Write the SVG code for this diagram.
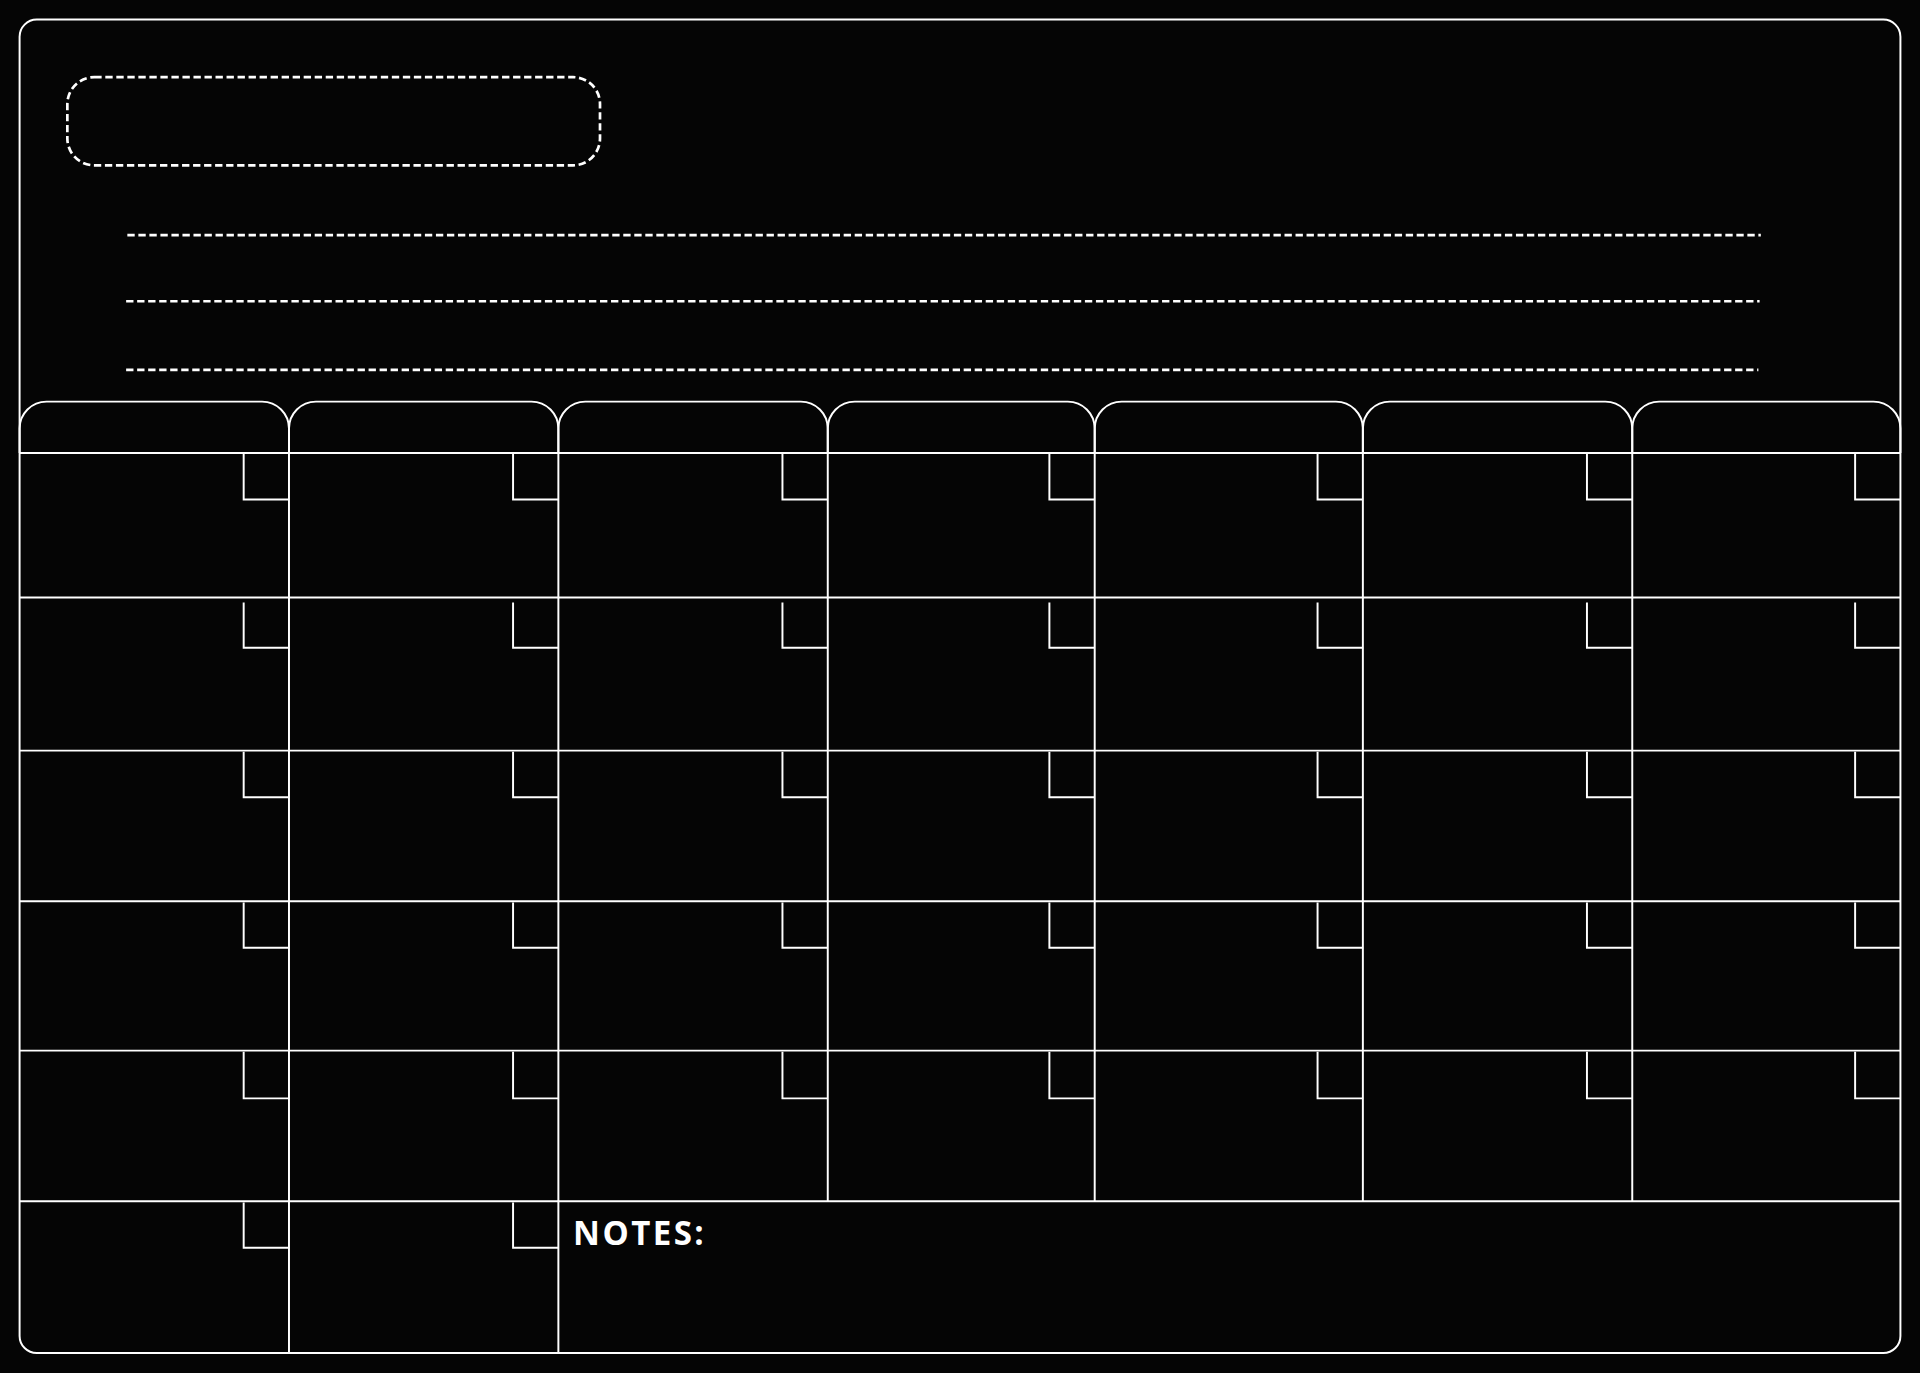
<svg xmlns="http://www.w3.org/2000/svg" width="1920" height="1373" viewBox="0 0 1920 1373">
<style>
.l{fill:none;stroke:#fff;stroke-width:1.6}
.d{fill:none;stroke:#fff;stroke-width:2.2;stroke-dasharray:6 3}
.t{fill:#fff;font-family:"Open Sans","DejaVu Sans",sans-serif;font-weight:bold;font-size:27px;letter-spacing:2px}
</style>
<rect width="1920" height="1373" fill="#050505"/>
<g transform="scale(1.2245)">
<g id="frame"><rect class="l" x="16" y="16" width="1536" height="1089" rx="14" stroke-width="2.2"/></g>
<g id="title"><rect class="d" x="55" y="63" width="435" height="72" rx="22"/></g>
<g id="lines">
<line class="d" x1="104" y1="192" x2="1438" y2="192"/>
<line class="d" x1="103" y1="246" x2="1437" y2="246"/>
<line class="d" x1="103" y1="302" x2="1436" y2="302"/>
</g>
<g id="tabs" class="l">
<path d="M16 370V350a22 22 0 0 1 22-22H214a22 22 0 0 1 22 22V370"/>
<path d="M236 370V350a22 22 0 0 1 22-22H434a22 22 0 0 1 22 22V370"/>
<path d="M456 370V350a22 22 0 0 1 22-22H654a22 22 0 0 1 22 22V370"/>
<path d="M676 370V350a22 22 0 0 1 22-22H872a22 22 0 0 1 22 22V370"/>
<path d="M894 370V350a22 22 0 0 1 22-22H1091a22 22 0 0 1 22 22V370"/>
<path d="M1113 370V350a22 22 0 0 1 22-22H1311a22 22 0 0 1 22 22V370"/>
<path d="M1333 370V350a22 22 0 0 1 22-22H1530a22 22 0 0 1 22 22V370"/>
</g>
<g id="grid" class="l">
<path d="M16 370H1552M16 488H1552M16 613H1552M16 736H1552M16 858H1552M16 981H1552"/>
<path d="M236 370V1105M456 370V1105M676 370V981M894 370V981M1113 370V981M1333 370V981"/>
</g>
<g id="boxes" class="l">
<path d="M199 370v38h37M419 370v38h37M639 370v38h37M857 370v38h37M1076 370v38h37M1296 370v38h37M1515 370v38h37"/>
<path d="M199 492v37h37M419 492v37h37M639 492v37h37M857 492v37h37M1076 492v37h37M1296 492v37h37M1515 492v37h37"/>
<path d="M199 614v37h37M419 614v37h37M639 614v37h37M857 614v37h37M1076 614v37h37M1296 614v37h37M1515 614v37h37"/>
<path d="M199 737v37h37M419 737v37h37M639 737v37h37M857 737v37h37M1076 737v37h37M1296 737v37h37M1515 737v37h37"/>
<path d="M199 859v38h37M419 859v38h37M639 859v38h37M857 859v38h37M1076 859v38h37M1296 859v38h37M1515 859v38h37"/>
<path d="M199 982v37h37M419 982v37h37"/>
</g>
<g id="notes"><text class="t" x="468" y="1017">NOTES:</text></g>
</g>
</svg>
